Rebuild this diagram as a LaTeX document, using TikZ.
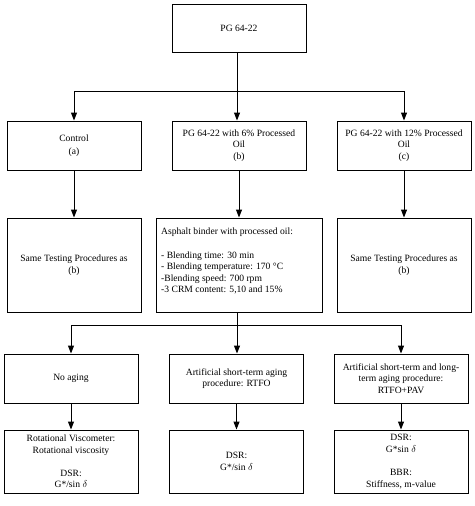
\documentclass[tikz,border=0pt]{standalone}
\usepackage{fontspec}
\setmainfont{Liberation Serif}
\usetikzlibrary{arrows.meta}
\begin{document}
\begin{tikzpicture}[x=1pt,y=-1pt,
  box/.style={draw=black,line width=1pt,minimum width=134pt,align=center,inner sep=2pt,
    font=\fontsize{9.6}{11.6}\selectfont},
  conn/.style={line width=1pt,draw=black},
  arr/.style={conn,-{Triangle[length=8pt,width=6pt]}}]
\useasboundingbox (0,0) rectangle (474,506);
% row 1
\node[box,minimum height=48pt] (top) at (239,28) {PG 64-22};
% row 2
\node[box,minimum height=49pt] (ctrl) at (74,145.5) {Control\\[1.5pt](a)};
\node[box,minimum height=49pt] (six) at (239,145.5) {PG 64-22 with 6\% Processed\\Oil\\(b)};
\node[box,minimum height=49pt] (twelve) at (404,145.5) {PG 64-22 with 12\% Processed\\Oil\\(c)};
% row 3
\node[box,minimum height=94pt] (same1) at (74,265) {Same Testing Procedures as\\(b)};
\node[box,minimum height=94pt,minimum width=166pt] (blend) at (239,265) {};
\node[anchor=north west,align=left,inner sep=0pt,font=\fontsize{9.6}{11.6}\selectfont] (blendtxt) at (161,228)
  {Asphalt binder with processed oil:\\[11.6pt]
   - Blending time: 30 min\\
   - Blending temperature: 170 \textdegree C\\
   -Blending speed: 700 rpm\\
   -3 CRM content: 5,10 and 15\%};
\node[box,minimum height=94pt] (same2) at (404,265) {Same Testing Procedures as\\(b)};
% row 4
\node[box,minimum height=49pt] (noage) at (71,378.5) {No aging};
\node[box,minimum height=49pt] (rtfo) at (236.5,378.5) {Artificial short-term aging\\procedure: RTFO};
\node[box,minimum height=49pt] (pav) at (401,378.5) {Artificial short-term and long-\\term aging procedure:\\RTFO+PAV};
% row 5
\node[box,minimum height=63pt] (visc) at (71,461.5) {Rotational Viscometer:\\Rotational viscosity\\[11.6pt]DSR:\\G*/sin $\delta$};
\node[box,minimum height=63pt] (dsr) at (236.5,461.5) {DSR:\\G*/sin $\delta$};
\node[box,minimum height=63pt] (bbr) at (401,461.5) {DSR:\\G*sin $\delta$\\[11.6pt]BBR:\\Stiffness, m-value};
% junctions
\coordinate (j1) at (237,91);
\coordinate (j2) at (237,325);
% connectors
\draw[conn] (top.south -| j1) -- (j1);
\draw[arr] (j1) -| (ctrl.north);
\draw[arr] (j1) -- (six.north -| j1);
\draw[arr] (j1) -| (twelve.north);
\draw[arr] (ctrl) -- (same1);
\draw[arr] (six) -- (blend);
\draw[arr] (twelve) -- (same2);
\draw[conn] (blend.south -| j2) -- (j2);
\draw[arr] (j2) -| (noage.north);
\draw[arr] (j2) -- (rtfo.north -| j2);
\draw[arr] (j2) -| (pav.north);
\draw[arr] (noage) -- (visc);
\draw[arr] (rtfo) -- (dsr);
\draw[arr] (pav) -- (bbr);
\end{tikzpicture}
\end{document}
